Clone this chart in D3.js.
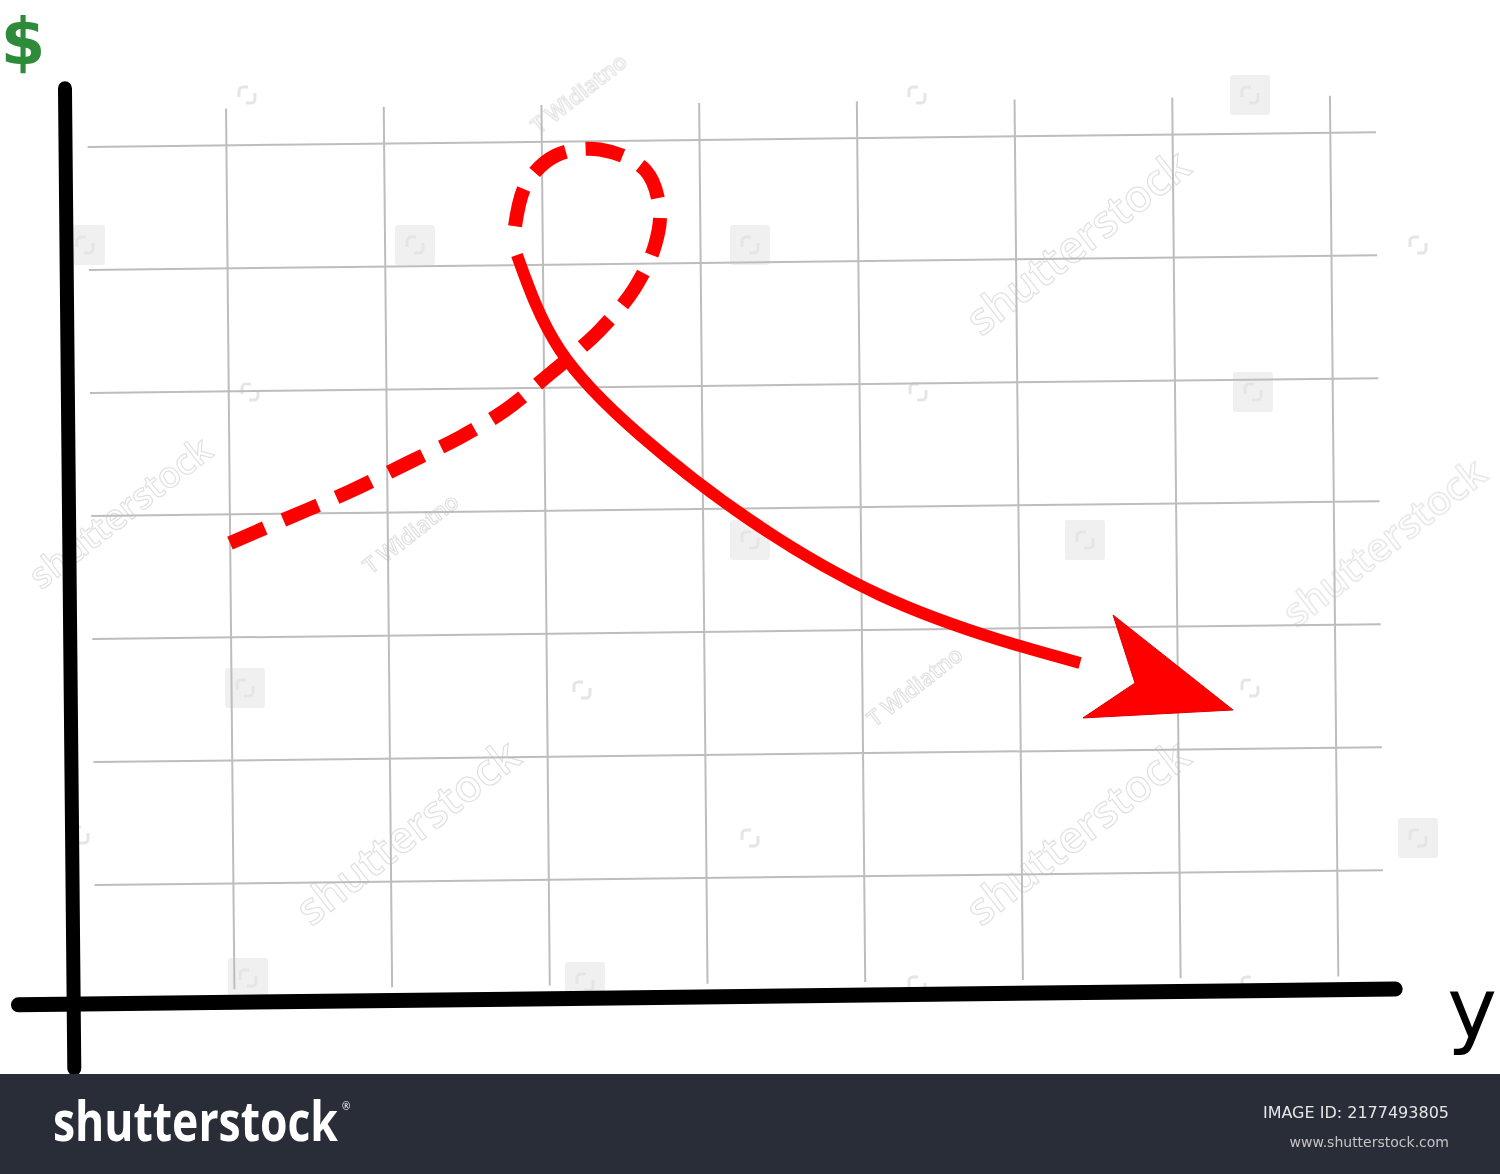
<!DOCTYPE html>
<html>
<head>
<meta charset="utf-8">
<script src="https://cdn.jsdelivr.net/npm/d3@7"></script>
<style>
  html, body { margin: 0; padding: 0; background: #fff; }
  svg { display: block; }
</style>
</head>
<body>
<svg id="chart" width="1500" height="1174"></svg>
<script>
// ---- data ----
const gridX = [1, 2, 3, 4, 5, 6, 7, 8];          // vertical grid lines (x units)
const gridY = [1, 2, 3, 4, 5, 6, 7];             // horizontal grid lines (y units)
const gridXExtent = [0.12, 8.29];
const gridYExtent = [0.14, 7.3];
const axisXExtent = [-0.37, 8.36];
const axisYExtent = [-0.49, 7.48];
const axisXAt = 0.033;   // y value where horizontal axis sits
const axisYAt = -0.02;   // x value where vertical axis sits

// dashed part of the curve (rises, loops)
const dashedX = [1.025, 1.405, 1.786, 2.167, 2.484, 2.77, 3.02, 3.37, 3.59, 3.72, 3.75, 3.66, 3.37, 3.09, 2.90, 2.83];
const dashedY = [3.78, 3.99, 4.20, 4.44, 4.64, 4.86, 5.12, 5.51, 5.85, 6.20, 6.49, 6.81, 6.98, 6.93, 6.69, 6.33];
// solid part of the curve (falls toward arrow)
const solidX = [2.845, 3.118, 3.625, 4.323, 5.147, 5.908, 6.416];
const solidY = [6.122, 5.350, 4.659, 3.967, 3.358, 2.992, 2.805];
// arrowhead polygon
const arrowX = [6.625, 6.764, 6.434, 7.386];
const arrowY = [3.195, 2.642, 2.358, 2.423];

const labelX = "y";
const labelY = "$";

// ---- scales ----
const x = d3.scaleLinear().domain([0, 8]).range([68.3, 68.3 + 157.7 * 8]);
const y = d3.scaleLinear().domain([0, 7]).range([1008, 1008 - 123 * 7]);

const svg = d3.select("#chart");

// ---- watermark layer (faint) ----
const wm = svg.append("g").attr("opacity", 0.55);
const boxes = [[85,245],[415,245],[750,245],[1250,95],[1253,392],[1085,540],[750,540],[245,688],[1418,838],[248,978],[585,982]];
wm.selectAll("rect.wb").data(boxes).join("rect")
  .attr("x", d => d[0] - 20).attr("y", d => d[1] - 20)
  .attr("width", 40).attr("height", 40).attr("rx", 3)
  .attr("fill", "#e4e4e4");
const icons = boxes.concat([[247,95],[917,95],[1418,245],[250,392],[918,392],[582,690],[1250,688],[750,838],[917,985],[1250,985],[80,835]]);
wm.selectAll("path.wi").data(icons).join("path")
  .attr("d", d => `M${d[0]-8},${d[1]+2} v-6 a4,4 0 0 1 4,-4 h5 M${d[0]+8},${d[1]-2} v6 a4,4 0 0 1 -4,4 h-5`)
  .attr("fill", "none").attr("stroke", "#d0d0d0").attr("stroke-width", 3);

const wmTexts = [
  ["shutterstock", 1080, 245, 44], ["shutterstock", 410, 835, 44], ["shutterstock", 1080, 835, 44],
  ["shutterstock", 122, 515, 36], ["shutterstock", 1386, 545, 40],
  ["T Widiatno", 580, 95, 22], ["T Widiatno", 412, 535, 22], ["T Widiatno", 916, 688, 22]
];
wm.selectAll("text.wt").data(wmTexts).join("text")
  .attr("transform", d => `translate(${d[1]},${d[2]}) rotate(-38)`)
  .attr("text-anchor", "middle").attr("dominant-baseline", "middle")
  .attr("font-family", "Open Sans, sans-serif").attr("font-weight", 600)
  .attr("font-size", d => d[3])
  .attr("fill", "#fff").attr("stroke", "#c8c8c8").attr("stroke-width", 1.2)
  .text(d => d[0]);

// ---- skewed (hand-drawn) grid + axes ----
const sk = svg.append("g").attr("transform", "matrix(1,-0.0115,0.0095,1,-1,1)");

sk.append("g").selectAll("line").data(gridX).join("line")
  .attr("x1", d => x(d)).attr("x2", d => x(d))
  .attr("y1", y(gridYExtent[1])).attr("y2", y(gridYExtent[0]))
  .attr("stroke", "#bdbdbd").attr("stroke-width", 2);

sk.append("g").selectAll("line").data(gridY).join("line")
  .attr("y1", d => y(d)).attr("y2", d => y(d))
  .attr("x1", x(gridXExtent[0])).attr("x2", x(gridXExtent[1]))
  .attr("stroke", "#bdbdbd").attr("stroke-width", 2);

sk.append("line")
  .attr("x1", x(axisYAt)).attr("x2", x(axisYAt))
  .attr("y1", y(axisYExtent[1])).attr("y2", y(axisYExtent[0]))
  .attr("stroke", "#000").attr("stroke-width", 14).attr("stroke-linecap", "round");

sk.append("line")
  .attr("x1", x(axisXExtent[0])).attr("x2", x(axisXExtent[1]))
  .attr("y1", y(axisXAt)).attr("y2", y(axisXAt))
  .attr("stroke", "#000").attr("stroke-width", 15).attr("stroke-linecap", "round");

// ---- curve ----
const loopLine = d3.line().x(d => x(d[0])).y(d => y(d[1])).curve(d3.curveCatmullRom.alpha(0.5));
const fallLine = d3.line().x(d => x(d[0])).y(d => y(d[1])).curve(d3.curveNatural);
const dashed = dashedX.map((v, i) => [v, dashedY[i]]);
const solid = solidX.map((v, i) => [v, solidY[i]]);

svg.append("path").attr("d", loopLine(dashed))
  .attr("fill", "none").attr("stroke", "#ff0000").attr("stroke-width", 14)
  .attr("stroke-dasharray", "38,20");

svg.append("path").attr("d", fallLine(solid))
  .attr("fill", "none").attr("stroke", "#ff0000").attr("stroke-width", 12);

svg.append("polygon")
  .attr("points", arrowX.map((v, i) => `${x(v)},${y(arrowY[i])}`).join(" "))
  .attr("fill", "#ff0000").attr("stroke", "#e00000").attr("stroke-width", 1);

// ---- axis labels ----
svg.append("text").attr("x", 23).attr("y", 64)
  .attr("text-anchor", "middle")
  .attr("font-family", "DejaVu Sans, sans-serif").attr("font-weight", "bold")
  .attr("font-size", 64).attr("fill", "#2e8b3a").text(labelY);

svg.append("text").attr("x", 1472).attr("y", 1038)
  .attr("text-anchor", "middle")
  .attr("font-family", "DejaVu Sans, sans-serif")
  .attr("font-size", 84).attr("fill", "#000").text(labelX);

// ---- footer banner ----
svg.append("rect").attr("x", 0).attr("y", 1074).attr("width", 1500).attr("height", 100).attr("fill", "#282d38");
const logo = svg.append("text")
  .attr("font-family", "Open Sans, sans-serif").attr("font-weight", 700)
  .attr("font-size", 56).attr("fill", "#fff").text("shutterstock");
const natW = logo.node().getComputedTextLength();
logo.attr("transform", `translate(53,1141) scale(${285 / natW},1)`);
svg.append("text").attr("x", 342).attr("y", 1110)
  .attr("font-family", "Open Sans, sans-serif").attr("font-size", 10).attr("fill", "#fff").text("®");
svg.append("text").attr("x", 1449).attr("y", 1118).attr("text-anchor", "end")
  .attr("font-family", "DejaVu Sans, sans-serif").attr("font-size", 16).attr("fill", "#e6e6e6").text("IMAGE ID: 2177493805");
svg.append("text").attr("x", 1449).attr("y", 1147).attr("text-anchor", "end")
  .attr("font-family", "DejaVu Sans, sans-serif").attr("font-size", 14).attr("fill", "#c4c4c4").text("www.shutterstock.com");
</script>
</body>
</html>
